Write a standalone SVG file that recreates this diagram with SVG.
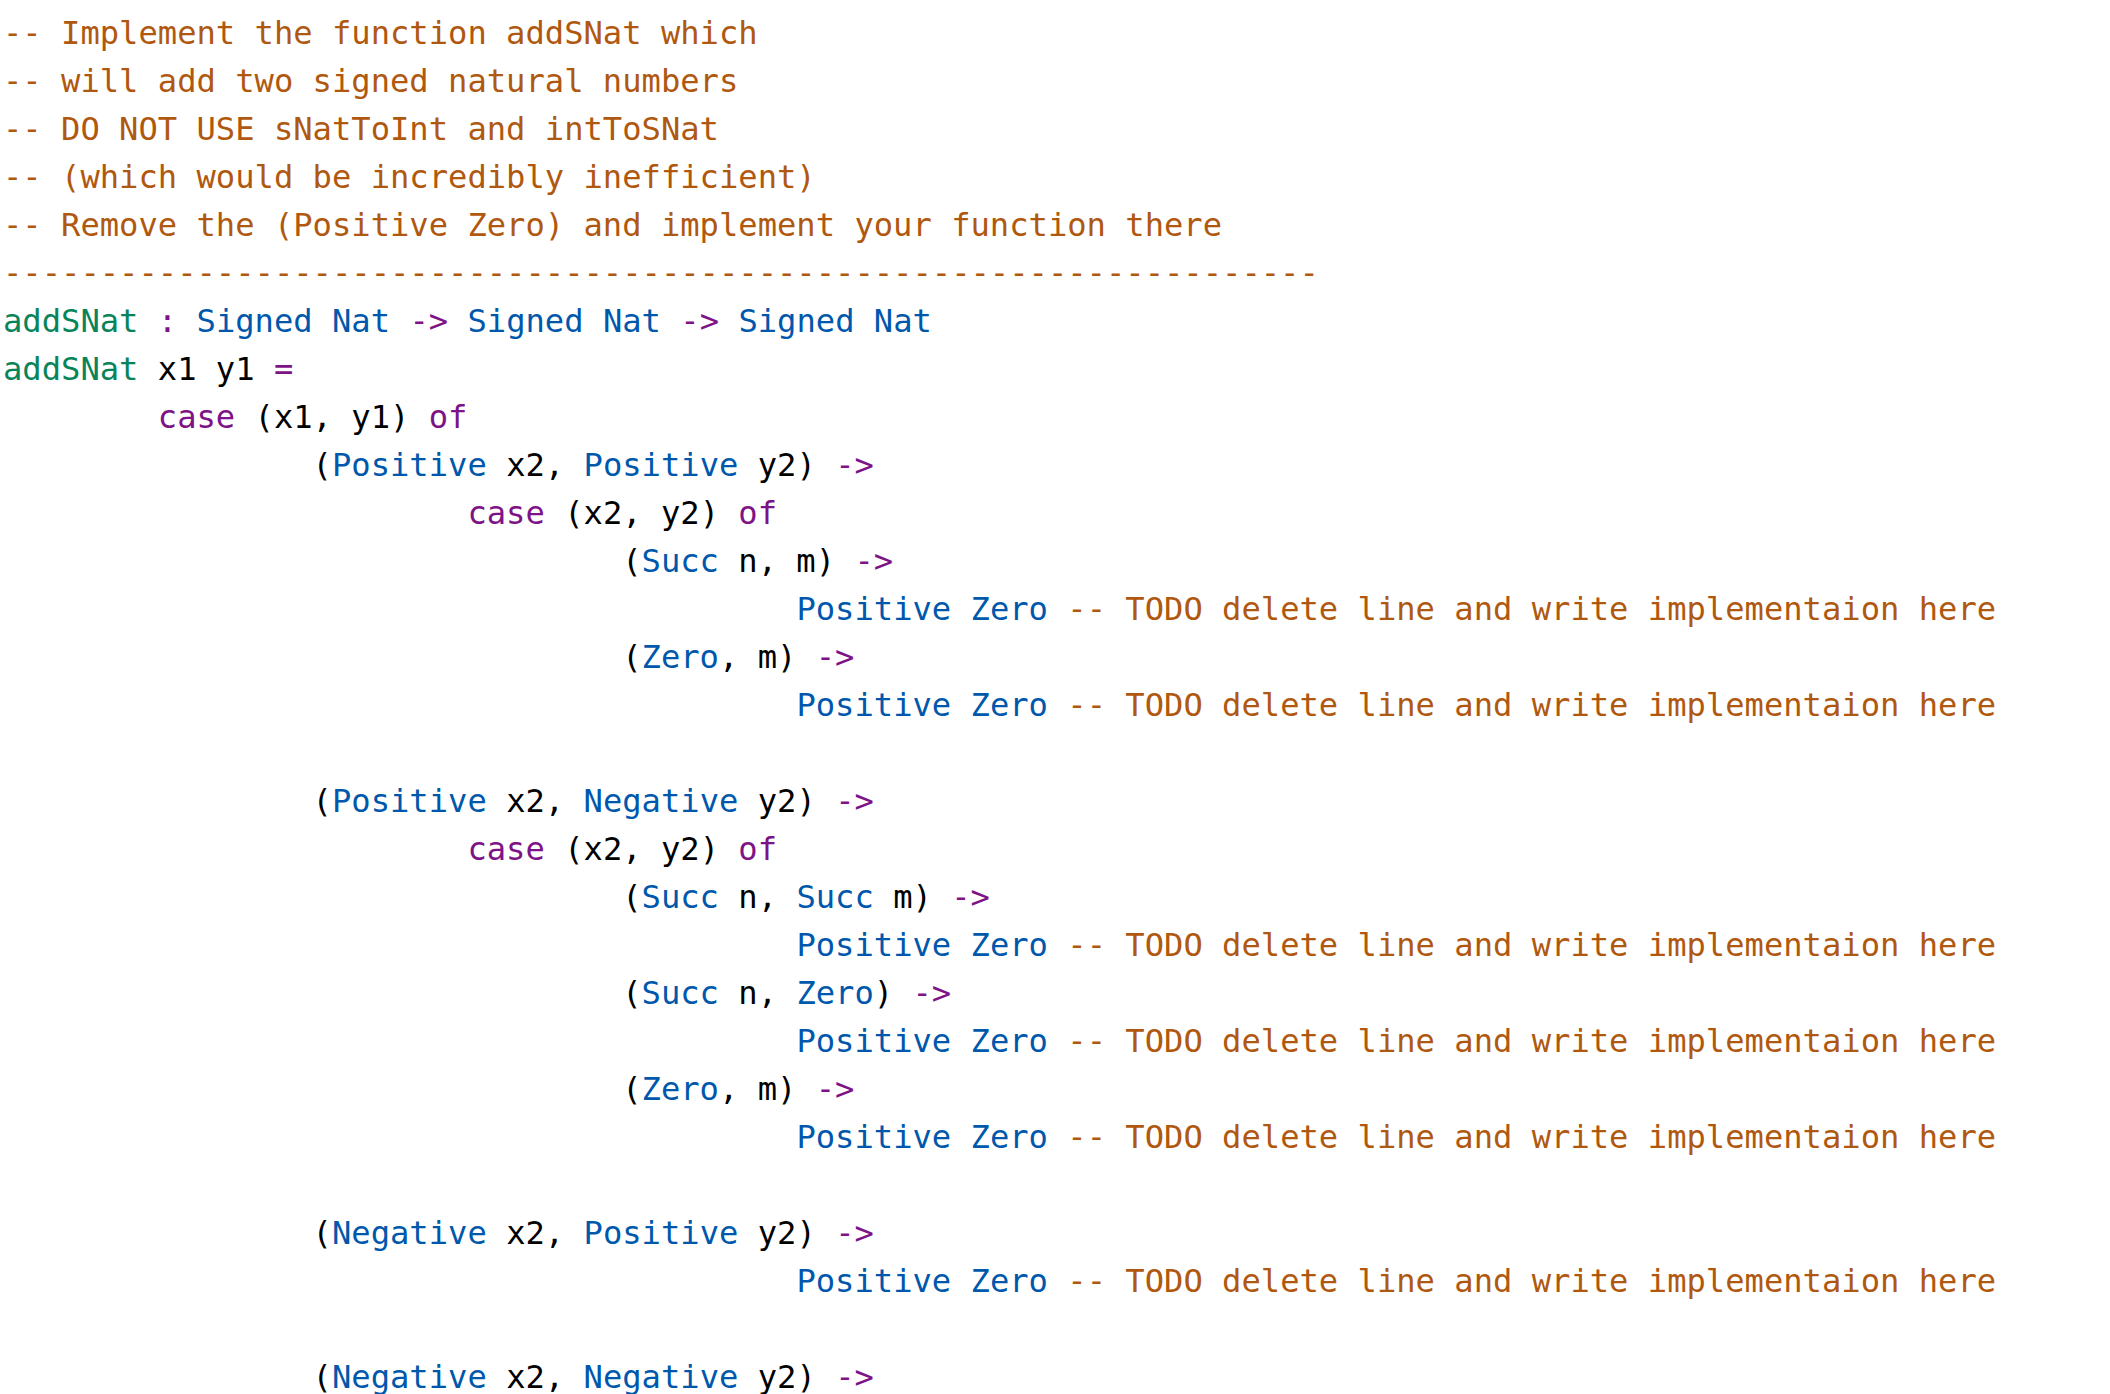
<svg xmlns="http://www.w3.org/2000/svg" width="2110" height="1394" viewBox="0 0 2110 1394">
<style>
text{font-family:"DejaVu Sans Mono","Liberation Mono",monospace;font-size:32.15px;white-space:pre;fill:#000}
.c{fill:#B0580F}.g{fill:#08845A}.b{fill:#0058AC}.k{fill:#7E1287}
</style>
<rect width="2110" height="1394" fill="#fff"/>
<g xml:space="preserve">
<text x="3" y="44" class="c">-- Implement the function addSNat which</text>
<text x="3" y="92" class="c">-- will add two signed natural numbers</text>
<text x="3" y="140" class="c">-- DO NOT USE sNatToInt and intToSNat</text>
<text x="3" y="188" class="c">-- (which would be incredibly inefficient)</text>
<text x="3" y="236" class="c">-- Remove the (Positive Zero) and implement your function there</text>
<text x="3" y="284" class="c">--------------------------------------------------------------------</text>
<text x="3" y="332"><tspan class="g">addSNat</tspan> <tspan class="k">:</tspan> <tspan class="b">Signed Nat</tspan> <tspan class="k">-&gt;</tspan> <tspan class="b">Signed Nat</tspan> <tspan class="k">-&gt;</tspan> <tspan class="b">Signed Nat</tspan></text>
<text x="3" y="380"><tspan class="g">addSNat</tspan> x1 y1 <tspan class="k">=</tspan></text>
<text x="3" y="428">        <tspan class="k">case</tspan> (x1, y1) <tspan class="k">of</tspan></text>
<text x="3" y="476">                (<tspan class="b">Positive</tspan> x2, <tspan class="b">Positive</tspan> y2) <tspan class="k">-&gt;</tspan></text>
<text x="3" y="524">                        <tspan class="k">case</tspan> (x2, y2) <tspan class="k">of</tspan></text>
<text x="3" y="572">                                (<tspan class="b">Succ</tspan> n, m) <tspan class="k">-&gt;</tspan></text>
<text x="3" y="620">                                         <tspan class="b">Positive Zero</tspan> <tspan class="c">-- TODO delete line and write implementaion here</tspan></text>
<text x="3" y="668">                                (<tspan class="b">Zero</tspan>, m) <tspan class="k">-&gt;</tspan></text>
<text x="3" y="716">                                         <tspan class="b">Positive Zero</tspan> <tspan class="c">-- TODO delete line and write implementaion here</tspan></text>
<text x="3" y="812">                (<tspan class="b">Positive</tspan> x2, <tspan class="b">Negative</tspan> y2) <tspan class="k">-&gt;</tspan></text>
<text x="3" y="860">                        <tspan class="k">case</tspan> (x2, y2) <tspan class="k">of</tspan></text>
<text x="3" y="908">                                (<tspan class="b">Succ</tspan> n, <tspan class="b">Succ</tspan> m) <tspan class="k">-&gt;</tspan></text>
<text x="3" y="956">                                         <tspan class="b">Positive Zero</tspan> <tspan class="c">-- TODO delete line and write implementaion here</tspan></text>
<text x="3" y="1004">                                (<tspan class="b">Succ</tspan> n, <tspan class="b">Zero</tspan>) <tspan class="k">-&gt;</tspan></text>
<text x="3" y="1052">                                         <tspan class="b">Positive Zero</tspan> <tspan class="c">-- TODO delete line and write implementaion here</tspan></text>
<text x="3" y="1100">                                (<tspan class="b">Zero</tspan>, m) <tspan class="k">-&gt;</tspan></text>
<text x="3" y="1148">                                         <tspan class="b">Positive Zero</tspan> <tspan class="c">-- TODO delete line and write implementaion here</tspan></text>
<text x="3" y="1244">                (<tspan class="b">Negative</tspan> x2, <tspan class="b">Positive</tspan> y2) <tspan class="k">-&gt;</tspan></text>
<text x="3" y="1292">                                         <tspan class="b">Positive Zero</tspan> <tspan class="c">-- TODO delete line and write implementaion here</tspan></text>
<text x="3" y="1388">                (<tspan class="b">Negative</tspan> x2, <tspan class="b">Negative</tspan> y2) <tspan class="k">-&gt;</tspan></text>
</g>
</svg>
